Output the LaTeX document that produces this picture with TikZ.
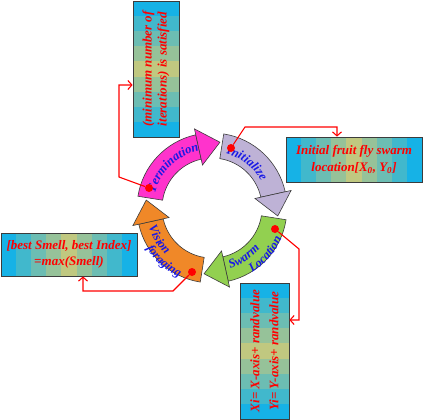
\documentclass[tikz,border=0pt]{standalone}
\usepackage{fontspec}
\setmainfont{Liberation Serif}
\usetikzlibrary{decorations.text,arrows.meta,calc}
\definecolor{mag}{RGB}{255,51,204}
\definecolor{lav}{RGB}{190,178,214}
\definecolor{grn}{RGB}{146,208,80}
\definecolor{org}{RGB}{240,136,40}
\definecolor{tblue}{RGB}{25,25,230}
\definecolor{edge}{RGB}{60,60,60}
\definecolor{gA}{RGB}{22,178,230}
\definecolor{gB}{RGB}{65,184,204}
\definecolor{gC}{RGB}{108,189,179}
\definecolor{gD}{RGB}{150,194,153}
\definecolor{gE}{RGB}{192,200,128}
\tikzset{
  segline/.style={draw=edge,line width=0.6pt,line join=miter},
  boxframe/.style={draw=edge,line width=0.8pt,inner sep=0pt},
  boxtext/.style={text=red,font=\bfseries\itshape\fontsize{13}{15}\selectfont,align=center,inner sep=0pt},
  reddot/.style={circle,fill=red,inner sep=0pt,minimum size=8pt},
  conn/.style={draw=red,line width=1.1pt,-{Straight Barb[length=4pt,width=9pt]}},
  arctext/.style={decorate,decoration={text along path,text align=center,text color=tblue}}
}
\newcommand{\ringseg}[4]{% start, bodyend, tipdir, color
  \draw[segline,fill=#4] (#1:75) arc[start angle=#1,end angle=#2,radius=75] -- (#2:50) arc[start angle=#2,end angle=#1,radius=50] -- cycle;
  \draw[segline,fill=#4] (#2:44) -- (#2:81) -- ($(#2:62.5)+(#3:22)$) -- cycle;
}
% banded gradient, 9 bands: A B C D E D C B A
\newcommand{\hgrad}[4]{%
  \foreach \c [count=\i from 0] in {gA,gB,gC,gD,gE,gD,gC,gB,gA}{%
    \pgfmathsetmacro{\xa}{#1+(#3-#1)*\i/9}%
    \pgfmathsetmacro{\xb}{#1+(#3-#1)*(\i+1)/9+0.3}%
    \fill[\c] (\xa,#2) rectangle (\xb,#4);
  }}
\newcommand{\vgrad}[4]{%
  \foreach \c [count=\i from 0] in {gA,gB,gC,gD,gE,gD,gC,gB,gA}{%
    \pgfmathsetmacro{\ya}{#2+(#4-#2)*\i/9}%
    \pgfmathsetmacro{\yb}{#2+(#4-#2)*(\i+1)/9-0.3}%
    \fill[\c] (#1,\ya) rectangle (#3,\yb);
  }}
\newcommand{\af}{|\fontsize{12.5}{14}\selectfont\bfseries\itshape|}
\begin{document}
\begin{tikzpicture}[x=1pt,y=1pt]
\useasboundingbox (0,0) rectangle (423,-420);
% boxes
\vgrad{133}{-1}{179}{-137}
\node[boxframe,minimum width=46pt,minimum height=136pt] (box1) at (156,-69) {};
\node[boxtext,rotate=90,font=\bfseries\itshape\fontsize{13}{15}\selectfont] (t1) at (box1) {(minimum number of\\iterations) is satisfied};
\hgrad{286}{-137}{422}{-182}
\node[boxframe,minimum width=136pt,minimum height=45pt] (box2) at (354,-159.5) {};
\node[boxtext,font=\bfseries\itshape\fontsize{13}{17}\selectfont] (t2) at (box2) {Initial fruit fly swarm\\location[X\textsubscript{0}, Y\textsubscript{0}]};
\hgrad{1}{-233}{137}{-276}
\node[boxframe,minimum width=136pt,minimum height=43pt] (box3) at (69,-254.5) {};
\node[boxtext,font=\bfseries\itshape\fontsize{13}{16}\selectfont] (t3) at (box3) {[best Smell, best Index]\\=max(Smell)};
\vgrad{240}{-283}{289}{-419}
\node[boxframe,minimum width=49pt,minimum height=136pt] (box4) at (264.5,-351) {};
\node[boxtext,rotate=90,font=\bfseries\itshape\fontsize{13}{19}\selectfont] (t4) at (box4) {Xi= X-axis+ randvalue\\Yi= Y-axis+ randvalue};
% ring
\begin{scope}[shift={(212,-208)}]
\ringseg{171}{102.5}{12.5}{mag}
\ringseg{81}{12.5}{-77.5}{lav}
\ringseg{-9}{-77.5}{-167.5}{grn}
\ringseg{-99}{-167.5}{102.5}{org}
\path[arctext,decoration={text={\af Termination}}] (168:59) arc[start angle=168,end angle=100,radius=59];
\path[arctext,decoration={text={\af Initialize}}] (80:56) arc[start angle=80,end angle=24,radius=56];
\path[arctext,decoration={text={\af Swarm}}] (-82:63) arc[start angle=-82,end angle=-32,radius=63];
\path[arctext,decoration={text={\af Location}}] (-66:76) arc[start angle=-66,end angle=-16,radius=76];
\path[arctext,decoration={text={\af Vision}}] (186:66) arc[start angle=186,end angle=236,radius=66];
\path[arctext,decoration={text={\af foraging}}] (202:77) arc[start angle=202,end angle=254,radius=77];
\end{scope}
% dots
\node[reddot] (dterm) at (149,-188) {};
\node[reddot] (dinit) at (231,-148) {};
\node[reddot] (dswarm) at (275,-229) {};
\node[reddot] (dorg) at (192,-272) {};
% connectors
\coordinate (c1) at (119,-177);
\coordinate (c2) at (245,-127);
\coordinate (c3) at (299,-249);
\coordinate (c4) at (173,-291);
\draw[conn] (dterm) -- (c1) |- ($(box1.west)+(0,-16)$);
\draw[conn] (dinit) -- (c2) -| ($(box2.north)+(-17,0)$);
\draw[conn] (dswarm) -- (c3) |- ($(box4.east)+(0,31)$);
\draw[conn] (dorg) -- (c4) -| ($(box3.south)+(14,0)$);
\end{tikzpicture}
\end{document}
